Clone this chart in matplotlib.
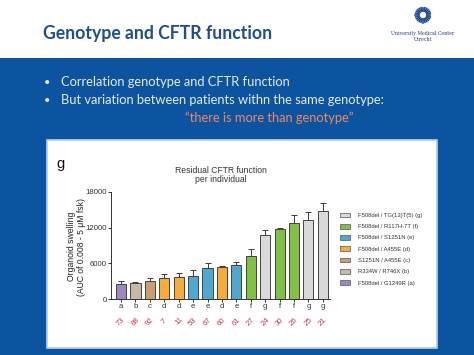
import numpy as np
import matplotlib
matplotlib.use("Agg")
import matplotlib.pyplot as plt
from matplotlib.patches import Rectangle, Patch

# ---- data ----
genotype = ["a", "b", "c", "d", "d", "e", "e", "d", "e", "f", "g", "f", "f", "g", "g"]
patient_ids = ["73", "88", "92", "7", "11", "53", "67", "60", "61", "27", "24", "30", "26", "25", "21"]
swelling = [2500, 2750, 3100, 3500, 3650, 3900, 5250, 5300, 5700, 7300, 10700, 11750, 12750, 13300, 14750]
err_up = [600, 120, 500, 780, 790, 1000, 880, 170, 560, 1180, 950, 230, 1460, 1300, 1400]
legend_keys = ["g", "f", "e", "d", "c", "b", "a"]
legend_labels = ["F508del / TG(13)T(5) (g)", "F508del / R117H-7T (f)", "F508del / S1251N (e)",
                 "F508del / A455E (d)", "S1251N / A455E (c)", "R334W / R746X (b)",
                 "F508del / G1249R (a)"]
yticks = [0, 6000, 12000, 18000]

colors = {"a": "#9d87c1", "b": "#c5b9a5", "c": "#c99f6f", "d": "#f8ab38",
          "e": "#4fa8cd", "f": "#7fc243", "g": "#d9d9d9"}

CF = "Liberation Sans"
W, H = 474, 355
fig = plt.figure(figsize=(W / 100, H / 100), dpi=100, facecolor="white")

# ---- slide decoration ----
deco = fig.add_axes([0, 0, 1, 1])
deco.set_xlim(0, W)
deco.set_ylim(H, 0)
deco.axis("off")
deco.add_patch(Rectangle((0, 58), W, H - 58, facecolor="#0c54a0", edgecolor="none"))
deco.add_patch(Rectangle((47, 140), 390, 208, facecolor="white", edgecolor="#b5d0ec", lw=1.2))

# logo
cx, cy, r = 423, 15, 7.5
for k in range(24):
    t = 2 * np.pi * k / 24
    deco.plot([cx + r * 0.55 * np.cos(t), cx + r * np.cos(t)],
              [cy + r * 0.55 * np.sin(t), cy + r * np.sin(t)], color="#1f4e9a", lw=1.2)
deco.text(cx, 33.5, "University Medical Center", ha="center", va="center", fontsize=3.3,
          family="DejaVu Serif", color="#1f3f80")
deco.text(cx, 39.5, "Utrecht", ha="center", va="center", fontsize=3.3,
          family="DejaVu Serif", color="#1f3f80")

fig.text(43 / W, 1 - 33 / H, "Genotype and CFTR function", fontsize=12.7, fontweight="bold",
         family="Lato", color="#1d4f8e", va="center", ha="left")
for yy, s in [(82, "Correlation genotype and CFTR function"),
              (100, "But variation between patients withn the same genotype:")]:
    fig.text(44 / W, 1 - yy / H, "\u2022", fontsize=8, family="Lato", color="#e6edf7",
             va="center", ha="left")
    fig.text(61 / W, 1 - yy / H, s, fontsize=9.3, family="Lato", color="#e6edf7",
             va="center", ha="left")
fig.text(185 / W, 1 - 118 / H, "\u201cthere is more than genotype\u201d", fontsize=9.3,
         family="Lato", color="#f08a5d", va="center", ha="left")

# ---- chart ----
ax = fig.add_axes([111 / W, 56 / H, (330 - 111) / W, (299 - 192) / H])
x = np.arange(len(swelling))
ax.bar(x, swelling, width=0.7, color=[colors[g] for g in genotype],
       edgecolor="#444444", linewidth=0.7, zorder=2)
ax.errorbar(x, swelling, yerr=[np.zeros(len(err_up)), err_up], fmt="none",
            ecolor="#3a3a3a", elinewidth=0.7, capsize=2.2, capthick=0.7, zorder=1)
ax.set_xlim(-0.7, 14.5)
ax.set_ylim(0, 18000)
ax.set_yticks(yticks)
ax.set_yticklabels([str(v) for v in yticks], family=CF)
ax.set_xticks(x)
ax.set_xticklabels(genotype, family=CF)
ax.tick_params(axis="both", labelsize=5.6, colors="#333333", length=2, width=0.7, pad=1)
for s in ["top", "right"]:
    ax.spines[s].set_visible(False)
for s in ["left", "bottom"]:
    ax.spines[s].set_color("#333333")
    ax.spines[s].set_linewidth(0.7)
for xi, pid in zip(x, patient_ids):
    ax.text(xi, -0.21, pid, transform=ax.get_xaxis_transform(), rotation=45,
            ha="center", va="center", fontsize=5.6, color="#c03a4e", family=CF)
ax.set_ylabel("Organoid swelling\n(AUC of 0.008 - 5 \u03bcM fsk)", fontsize=6.2, color="#222222",
              linespacing=1.05, family=CF)
ax.yaxis.set_label_coords(-0.116, 0.49)
ax.set_title("Residual CFTR function\nper individual", fontsize=6.2, color="#333333",
             pad=7, linespacing=1.1, family=CF)
fig.text(60 / W, 1 - 164 / H, "g", fontsize=10.5, color="#111111", ha="center", va="center",
         family=CF)

handles = [Patch(facecolor=colors[k], edgecolor="#555555", linewidth=0.5) for k in legend_keys]
fig.legend(handles, legend_labels, loc="upper left", bbox_to_anchor=(340 / W, 1 - 212.5 / H),
           frameon=False, handlelength=1.7, handleheight=0.9,
           labelspacing=1.0, handletextpad=1.3, borderpad=0, borderaxespad=0,
           labelcolor="#333333", prop={"family": CF, "size": 4.2})

fig.savefig("out.png", dpi=100, facecolor="white")
